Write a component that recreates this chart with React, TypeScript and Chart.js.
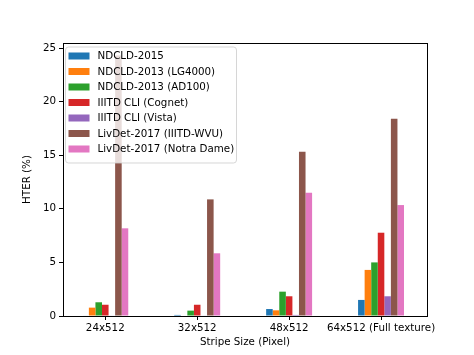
import React, { useEffect, useRef } from "react";
import { Chart, registerables } from "chart.js";

Chart.register(...registerables);

const categories = ["24x512", "32x512", "48x512", "64x512 (Full texture)"];
const seriesNames = [
  "NDCLD-2015",
  "NDCLD-2013 (LG4000)",
  "NDCLD-2013 (AD100)",
  "IIITD CLI (Cognet)",
  "IIITD CLI (Vista)",
  "LivDet-2017 (IIITD-WVU)",
  "LivDet-2017 (Notra Dame)",
];
const ndcld2015 = [0.05, 0.1, 0.65, 1.5];
const ndcld2013LG = [0.78, 0.0, 0.53, 4.3];
const ndcld2013AD = [1.28, 0.5, 2.27, 5.0];
const iiitdCognet = [1.05, 1.05, 1.84, 7.77];
const iiitdVista = [0.04, 0.04, 0.1, 1.84];
const livdetWVU = [24.3, 10.88, 15.33, 18.4];
const livdetND = [8.18, 5.85, 11.5, 10.35];
const seriesValues = [ndcld2015, ndcld2013LG, ndcld2013AD, iiitdCognet, iiitdVista, livdetWVU, livdetND];
const colors = ["#1f77b4", "#ff7f0e", "#2ca02c", "#d62728", "#9467bd", "#8c564b", "#e377c2"];
const yTicks = [0, 5, 10, 15, 20, 25];

const FONT = "'DejaVu Sans', sans-serif";
const FS = 10.3;

const framePlugin = {
  id: "frame",
  afterDatasetsDraw(chart: any) {
    const { ctx, chartArea: a } = chart;
    ctx.save();
    ctx.strokeStyle = "#000";
    ctx.lineWidth = 1;
    ctx.strokeRect(Math.round(a.left) + 0.5, Math.round(a.top) + 0.5, Math.round(a.right - a.left), Math.round(a.bottom - a.top));
    ctx.restore();
  },
};

const legendPlugin = {
  id: "mplLegend",
  afterDraw(chart: any) {
    const { ctx, chartArea: a } = chart;
    const x0 = a.left + 2.5;
    const y0 = a.top + 4;
    const w = 171;
    const h = 116;
    const r = 3;
    ctx.save();
    ctx.beginPath();
    ctx.moveTo(x0 + r, y0);
    ctx.lineTo(x0 + w - r, y0);
    ctx.arcTo(x0 + w, y0, x0 + w, y0 + r, r);
    ctx.lineTo(x0 + w, y0 + h - r);
    ctx.arcTo(x0 + w, y0 + h, x0 + w - r, y0 + h, r);
    ctx.lineTo(x0 + r, y0 + h);
    ctx.arcTo(x0, y0 + h, x0, y0 + h - r, r);
    ctx.lineTo(x0, y0 + r);
    ctx.arcTo(x0, y0, x0 + r, y0, r);
    ctx.closePath();
    ctx.fillStyle = "rgba(255,255,255,0.8)";
    ctx.fill();
    ctx.strokeStyle = "rgba(204,204,204,0.8)";
    ctx.lineWidth = 1;
    ctx.stroke();
    ctx.font = `${FS}px ${FONT}`;
    ctx.textBaseline = "middle";
    ctx.textAlign = "left";
    chart.data.datasets.forEach((ds: any, i: number) => {
      const cy = y0 + 9 + i * 15.5;
      ctx.fillStyle = ds.backgroundColor;
      ctx.fillRect(x0 + 3, cy - 3.5, 21, 7);
      ctx.fillStyle = "#000";
      ctx.fillText(ds.label, x0 + 32, cy + 0.5);
    });
    ctx.restore();
  },
};

export default function App() {
  const ref = useRef<HTMLCanvasElement>(null);
  useEffect(() => {
    document.body.style.margin = "0";
    const chart = new Chart(ref.current as HTMLCanvasElement, {
      type: "bar",
      data: {
        datasets: seriesNames.map((name, i) => ({
          label: name,
          backgroundColor: colors[i],
          borderWidth: 0,
          data: seriesValues[i].map((v, j) => ({ x: j, y: v })),
          categoryPercentage: 0.5,
          barPercentage: 1.0,
        })),
      },
      options: {
        animation: false,
        responsive: true,
        maintainAspectRatio: false,
        layout: { padding: { left: 0, top: 43, right: 47, bottom: 0 } },
        plugins: { legend: { display: false }, tooltip: { enabled: false } },
        scales: {
          x: {
            type: "linear",
            offset: false,
            min: -0.46,
            max: 3.5,
            grid: { display: true, offset: false, drawOnChartArea: false, drawTicks: true, tickLength: 4, color: "#000" },
            border: { display: false },
            afterBuildTicks: (s: any) => {
              s.ticks = categories.map((_, i) => ({ value: i }));
            },
            afterFit: (s: any) => {
              s.height = 39;
            },
            ticks: {
              autoSkip: false,
              maxRotation: 0,
              padding: 2,
              color: "#000",
              font: { family: FONT, size: FS },
              callback: (v: any) => categories[Math.round(Number(v))] ?? "",
            },
            title: {
              display: true,
              text: "Stripe Size (Pixel)",
              color: "#000",
              font: { family: FONT, size: FS },
              padding: { top: 0, bottom: 6 },
            },
          },
          y: {
            type: "linear",
            min: 0,
            max: 25.47,
            grid: { display: true, drawOnChartArea: false, drawTicks: true, tickLength: 4, color: "#000" },
            border: { display: false },
            afterBuildTicks: (s: any) => {
              s.ticks = yTicks.map((v) => ({ value: v }));
            },
            afterFit: (s: any) => {
              s.width = 63;
            },
            ticks: {
              padding: 3,
              color: "#000",
              font: { family: FONT, size: FS },
              callback: (v: any) => String(v),
            },
            title: {
              display: true,
              text: "HTER (%)",
              color: "#000",
              font: { family: FONT, size: FS },
              padding: { top: 21, bottom: 0 },
            },
          },
        },
      },
      plugins: [framePlugin, legendPlugin],
    } as any);
    return () => chart.destroy();
  }, []);
  return (
    <div style={{ position: "absolute", left: 0, top: 0, width: 474, height: 355, background: "#fff" }}>
      <canvas ref={ref} />
    </div>
  );
}
